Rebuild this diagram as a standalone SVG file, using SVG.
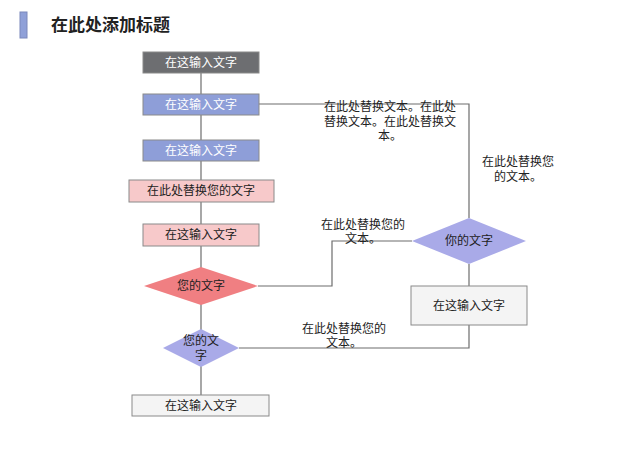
<svg xmlns="http://www.w3.org/2000/svg" width="640" height="451" viewBox="0 0 640 451">
<style>
text{font-family:"Liberation Sans","Noto Sans CJK SC",sans-serif;font-size:12px;fill:#222;text-anchor:middle}
.w{fill:#fff}
.c{fill:none;stroke:#6d6d6d;stroke-width:1.2}
.s{stroke:#8a8a8a;stroke-width:1}
</style>
<rect width="640" height="451" fill="#fff"/>
<rect x="20" y="12" width="7" height="26" fill="#8fa0d8" stroke="#7a88bb"/>
<text x="51" y="31" style="font-size:17px;font-weight:bold;text-anchor:start">在此处添加标题</text>
<g id="connectors">
<path class="c" d="M201 73V395"/>
<path class="c" d="M259 104H469V218"/>
<path class="c" d="M258 286H332V241H412"/>
<path class="c" d="M469 264V286"/>
<path class="c" d="M469 325V348H239"/>
</g>
<g id="n1"><rect class="s" x="143" y="52" width="116" height="21" fill="#6d6e71"/><text class="w" x="201" y="67">在这输入文字</text></g>
<g id="n2"><rect class="s" x="143" y="94" width="116" height="21" fill="#8e9ed8"/><text class="w" x="201" y="109">在这输入文字</text></g>
<g id="n3"><rect class="s" x="143" y="140" width="116" height="21" fill="#8e9ed8"/><text class="w" x="201" y="155">在这输入文字</text></g>
<g id="n4"><rect class="s" x="129" y="180" width="145" height="22" fill="#f7c9ca"/><text x="201" y="195">在此处替换您的文字</text></g>
<g id="n5"><rect class="s" x="143" y="224" width="116" height="22" fill="#f7c9ca"/><text x="201" y="239">在这输入文字</text></g>
<g id="d1"><polygon points="144,286 201,267 258,286 201,305" fill="#f07f82"/><text x="201" y="290">您的文字</text></g>
<g id="d2"><polygon points="163,348 201,329 239,348 201,367" fill="#a9aae8"/><text x="201" y="345">您的文</text><text x="201" y="360">字</text></g>
<g id="n6"><rect class="s" x="132" y="395" width="137" height="21" fill="#f4f4f4"/><text x="201" y="410">在这输入文字</text></g>
<g id="d3"><polygon points="412,241 469,218 526,241 469,264" fill="#a9aae8"/><text x="469" y="245">你的文字</text></g>
<g id="n7"><rect class="s" x="411" y="286" width="116" height="39" fill="#f4f4f4"/><text x="469" y="310">在这输入文字</text></g>
<g id="labels">
<text x="390" y="111">在此处替换文本。在此处</text>
<text x="390" y="126">替换文本。在此处替换文</text>
<text x="390" y="140">本。</text>
<text x="518" y="166">在此处替换您</text>
<text x="518" y="181">的文本。</text>
<text x="363" y="229">在此处替换您的</text>
<text x="363" y="243">文本。</text>
<text x="344" y="333">在此处替换您的</text>
<text x="344" y="347">文本。</text>
</g>
</svg>
